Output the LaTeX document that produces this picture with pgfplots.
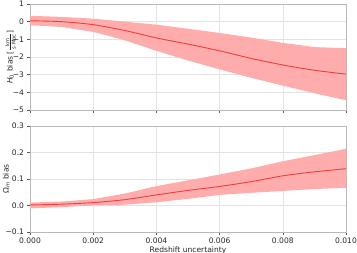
\documentclass[border=0pt]{standalone}
\usepackage{fontspec}
\setmainfont{DejaVu Sans}
\usepackage{pgfplots}
\usepackage{pgfplotstable}
\pgfplotsset{compat=1.18}
\definecolor{lred}{RGB}{240,60,60}
\definecolor{bandred}{RGB}{255,172,172}
\pgfplotstableread{
x mean
0.000 0.05
0.001 0.00
0.002 -0.17
0.003 -0.50
0.004 -0.92
0.005 -1.27
0.006 -1.65
0.007 -2.08
0.008 -2.45
0.009 -2.75
0.010 -2.97
}\hzeromean
\pgfplotstableread{
x y
0.000 0.33
0.001 0.27
0.002 0.17
0.003 0.00
0.004 -0.17
0.005 -0.40
0.006 -0.64
0.007 -0.90
0.008 -1.20
0.009 -1.44
0.010 -1.50
0.010 -4.45
0.009 -4.05
0.008 -3.62
0.007 -3.18
0.006 -2.70
0.005 -2.20
0.004 -1.65
0.003 -1.05
0.002 -0.58
0.001 -0.30
0.000 -0.20
}\hzeroband
\pgfplotstableread{
x mean
0.000 0.002
0.001 0.005
0.002 0.011
0.003 0.022
0.004 0.040
0.005 0.057
0.006 0.072
0.007 0.090
0.008 0.112
0.009 0.127
0.010 0.139
}\ommean
\pgfplotstableread{
x y
0.000 0.011
0.001 0.015
0.002 0.024
0.003 0.045
0.004 0.073
0.005 0.095
0.006 0.117
0.007 0.140
0.008 0.167
0.009 0.190
0.010 0.214
0.010 0.067
0.009 0.062
0.008 0.055
0.007 0.048
0.006 0.040
0.005 0.025
0.004 0.012
0.003 0.003
0.002 0.000
0.001 -0.006
0.000 -0.011
}\omband
\pgfplotsset{mystyle/.style={
  width=316bp, height=106bp, scale only axis,
  xmin=0, xmax=0.01,
  xtick={0,0.002,0.004,0.006,0.008,0.01},
  scaled x ticks=false, scaled y ticks=false,
  grid=major, grid style={gray!22, line width=0.5pt},
  axis line style={gray!55, line width=0.6pt},
  major tick style={gray!70!black, line width=0.5pt},
  tick align=outside, major tick length=3bp,
  xtick pos=lower, ytick pos=left,
  ticklabel style={font=\fontsize{7.6}{8.5}\selectfont, text=black!85},
  label style={font=\fontsize{7.6}{8.5}\selectfont, text=black!85},
  xticklabel style={yshift=0.5bp},
  yticklabel style={xshift=0.5bp},
}}
\begin{document}
\begin{tikzpicture}
\begin{axis}[mystyle, at={(0,0)}, anchor=north west,
  ymin=-5, ymax=1, ytick={-5,-4,-3,-2,-1,0,1},
  yticklabels={−5,−4,−3,−2,−1,0,1},
  xticklabels={},
  ylabel={\textit{H}\textsubscript{0} bias [$\frac{\mbox{\fontsize{5.2}{6}\selectfont km}}{\mbox{\fontsize{5.2}{6}\selectfont s}\cdot\mbox{\fontsize{5.2}{6}\selectfont Mpc}}$]},
  ylabel style={at={(axis description cs:-0.060,0.5)}, anchor=center}]
\addplot[fill=bandred, draw=none] table[x=x,y=y]{\hzeroband};
\addplot[lred, line width=0.9pt, smooth] table[x=x,y=mean]{\hzeromean};
\end{axis}
\begin{axis}[mystyle, at={(0,-122bp)}, anchor=north west,
  ymin=-0.1, ymax=0.3, ytick={-0.1,0,0.1,0.2,0.3},
  yticklabels={−0.1,0.0,0.1,0.2,0.3},
  xticklabels={0.000,0.002,0.004,0.006,0.008,0.010},
  xlabel={Redshift uncertainty},
  xlabel style={yshift=4bp},
  ylabel={Ω\textsubscript{\textit{m}} bias},
  ylabel style={at={(axis description cs:-0.075,0.5)}, anchor=center}]
\addplot[fill=bandred, draw=none] table[x=x,y=y]{\omband};
\addplot[lred, line width=0.9pt, smooth] table[x=x,y=mean]{\ommean};
\end{axis}
\pgfresetboundingbox
\path[use as bounding box] (-30bp,4bp) rectangle (327bp,-249bp);
\end{tikzpicture}
\end{document}
